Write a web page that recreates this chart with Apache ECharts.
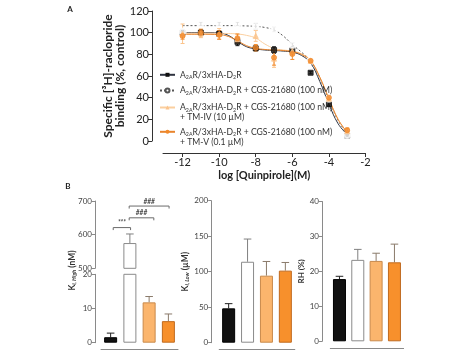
<!DOCTYPE html>
<html><head><meta charset="utf-8">
<script src="https://cdn.jsdelivr.net/npm/echarts@6/dist/echarts.min.js"></script>
<style>html,body{margin:0;padding:0;background:#fff}#c{width:474px;height:359px}</style>
</head><body><div id="c"></div>
<script>
// ---------- Panel A data ----------
const logX = [-12, -11, -10, -9, -8, -7, -6, -5, -4, -3];
const ctrlMean = [100, 100, 99, 91.5, 85.5, 84, 84, 63, 34, 5];
const ctrlErr  = [2, 2, 2, 3.5, 2, 3, 3, 1, 2, 1];
const cgsMean  = [101, 108, 108, 108, 106, 103, 88.6, 74, 39, 5.5];
const cgsErr   = [2, 1.5, 1.5, 1.5, 2.5, 2, 2, 2, 2, 1];
const tm4Mean  = [99, 99.4, 98.8, 94, 97, 76, 83, 74, 39, 9];
const tm4Err   = [9, 4, 5, 4, 5, 8, 3, 2, 2, 2];
const tm5Mean  = [97, 100, 98, 94.8, 86, 77, 80.3, 74, 40, 10];
const tm5Err   = [3, 3, 4, 4, 3, 7, 5, 2, 2, 2];

// fitted curves
const curveX    = [-12, -11, -10, -9.5, -9, -8.5, -8, -7.5, -7, -6.5, -6, -5.5, -5, -4.5, -4, -3.5, -3];
const ctrlCurve = [100, 100, 99.8, 97.5, 92, 87, 85, 84, 83.5, 83, 82, 79, 72, 55, 34, 16, 6];
const cgsCurve  = [106.5, 106.5, 106.5, 106.5, 106.4, 106.2, 105.8, 104.8, 102.5, 97, 89, 82, 74, 58, 38, 19, 7];
const tm4Curve  = [99.5, 99.5, 99.4, 99.2, 98.8, 97.5, 95, 89.5, 85.5, 84, 83, 80.5, 74.5, 59, 39, 20, 8];
const tm5Curve  = [98.5, 98.5, 98.2, 96.5, 92.5, 88, 85.5, 84.5, 84, 83.5, 82.5, 80, 74, 59, 39, 20, 8];
const xTicks = [-12, -10, -8, -6, -4, -2];

// ---------- Panel B data ----------
const groups = ['A2AR/3xHA-D2R', '+ CGS-21680', '+ CGS-21680 + TM-IV', '+ CGS-21680 + TM-V'];
const kHigh    = [1.6, 575, 11.8, 6.3];
const kHighErr = [1.2, 27, 1.7, 2.1];
const kLow     = [48.4, 114, 94.4, 101.5];
const kLowErr  = [6.6, 32, 20, 11.5];
const rh       = [17.8, 23.3, 23.0, 22.6];
const rhErr    = [0.8, 3.0, 2.2, 5.2];
const sigFrom  = [0, 1, 1];
const sigTo    = [1, 2, 3];
const sigY     = [621, 650, 685];
const sigText  = ['***', '###', '###'];

// ---------- styles ----------
const F = 'Lato, "DejaVu Sans", sans-serif';
const names = [
  'A2AR/3xHA-D2R',
  'A2AR/3xHA-D2R + CGS-21680 (100 nM)',
  'A2AR/3xHA-D2R + CGS-21680 (100 nM) + TM-IV (10 µM)',
  'A2AR/3xHA-D2R + CGS-21680 (100 nM) + TM-V (0.1 µM)'
];
const lineCol = ['#2f3440', '#555555', '#fbcf9f', '#e8842c'];
const ptCol = ['#111111', '#555555', '#fbc48c', '#f28a2a'];
const symbols = ['rect', 'emptyCircle', 'triangle', 'circle'];
const barFill = ['#111111', '#ffffff', '#fbb56d', '#f7902c'];
const barBorder = ['#000000', '#8a8a8a', '#c98a4c', '#c06a1e'];
const errCol = ['#222222', '#808080', '#8a7a6a', '#8a7a6a'];
const sigFromShift = [2.6, -0.7, -0.7];
const sigToShift = [0.7, 4.7, 0.7];

const legBase = '{n|A}{s|2A}{n|R/3xHA-D}{s|2}{n|R}';
const legendText = {};
legendText[names[0]] = legBase;
legendText[names[1]] = legBase + '{n| + CGS-21680 (100 nM)}';
legendText[names[2]] = '{n| }\n' + legBase + '{n| + CGS-21680 (100 nM)}\n{n|+ TM-IV (10 µM)}';
legendText[names[3]] = '{n| }\n' + legBase + '{n| + CGS-21680 (100 nM)}\n{n|+ TM-V (0.1 µM)}';

function legendFor(name, top) {
  return {
    data: [name], left: 159, top: top, orient: 'vertical', padding: 0,
    itemWidth: 15, itemHeight: 5, itemGap: 0, selectedMode: false,
    formatter: n => legendText[n],
    textStyle: {
      color: '#333', fontFamily: F,
      rich: {
        n: {fontSize: 8.6, lineHeight: 10, color: '#333', fontFamily: F},
        s: {fontSize: 5.3, lineHeight: 10, color: '#333', fontFamily: F, verticalAlign: 'bottom', padding: [3, 0, 0, 0]}
      }
    }
  };
}

function pointErr(k, means, errs) {
  return {
    type: 'custom', xAxisIndex: 0, yAxisIndex: 0, silent: true, z: 3,
    data: logX.map((x, i) => [x, means[i], errs[i]]),
    renderItem(params, api) {
      const x = api.value(0), m = api.value(1), e = api.value(2);
      const t = api.coord([x, m + e]), b = api.coord([x, m - e]);
      const st = {stroke: ptCol[k], lineWidth: 1};
      return {type: 'group', children: [
        {type: 'line', shape: {x1: t[0], y1: t[1], x2: b[0], y2: b[1]}, style: st},
        {type: 'line', shape: {x1: t[0] - 2, y1: t[1], x2: t[0] + 2, y2: t[1]}, style: st},
        {type: 'line', shape: {x1: b[0] - 2, y1: b[1], x2: b[0] + 2, y2: b[1]}, style: st}
      ]};
    }
  };
}

function barErr(gi, means, errs, keep) {
  return {
    type: 'custom', xAxisIndex: gi, yAxisIndex: gi, silent: true, z: 1,
    data: means.map((m, i) => keep.indexOf(i) >= 0 ? [i, m, errs[i]] : [i, '-', '-']),
    renderItem(params, api) {
      const i = api.value(0), m = api.value(1), e = api.value(2);
      if (isNaN(m)) return null;
      const t = api.coord([i, m + e]), b = api.coord([i, m]);
      const st = {stroke: errCol[i], lineWidth: 1};
      return {type: 'group', children: [
        {type: 'line', shape: {x1: t[0], y1: t[1], x2: b[0], y2: b[1]}, style: st},
        {type: 'line', shape: {x1: t[0] - 3.8, y1: t[1], x2: t[0] + 3.8, y2: t[1]}, style: st}
      ]};
    }
  };
}

function barSeries(gi, vals, keep) {
  return {
    type: 'bar', xAxisIndex: gi, yAxisIndex: gi, barWidth: 13, silent: true, z: 2,
    data: vals.map((v, i) => keep.indexOf(i) >= 0 ? {
      value: v, itemStyle: {color: barFill[i], borderColor: barBorder[i], borderWidth: 1}
    } : '-')
  };
}

const bYLabel = {fontSize: 8, color: '#444', margin: 3, fontFamily: F};
const bYLine = {show: true, onZero: false, lineStyle: {color: '#8a8a8a', width: 1}};
const bYTick = {show: true, length: 3, lineStyle: {color: '#8a8a8a'}};
function bX(gi, show) {
  return {type: 'category', gridIndex: gi, data: groups, show: show, offset: 7,
    axisLine: {show: true, onZero: false, lineStyle: {color: '#8a8a8a'}}, axisTick: {show: false}, axisLabel: {show: false}};
}
function bY(gi, min, max, interval, offset, extra) {
  return Object.assign({type: 'value', gridIndex: gi, min: min, max: max, interval: interval, offset: offset,
    axisLine: bYLine, axisTick: bYTick, axisLabel: bYLabel, splitLine: {show: false}}, extra || {});
}

const series = [];
const curves = [ctrlCurve, cgsCurve, tm4Curve, tm5Curve];
const means = [ctrlMean, cgsMean, tm4Mean, tm5Mean];
const errs = [ctrlErr, cgsErr, tm4Err, tm5Err];
for (let k = 0; k < 4; k++) {
  series.push({
    type: 'line', name: names[k], xAxisIndex: 0, yAxisIndex: 0, smooth: 0.4,
    data: curveX.map((x, i) => [x, curves[k][i]]),
    symbol: symbols[k], symbolSize: 5, showSymbol: false, silent: true, z: 2,
    lineStyle: {color: lineCol[k], width: 1, type: k === 1 ? [2, 2] : 'solid'},
    itemStyle: {color: ptCol[k], borderColor: ptCol[k]}
  });
}
for (let k = 0; k < 4; k++) {
  series.push(pointErr(k, means[k], errs[k]));
  series.push({
    type: 'scatter', name: 'pts' + k, xAxisIndex: 0, yAxisIndex: 0, silent: true, z: 4,
    data: logX.map((x, i) => [x, means[k][i]]),
    symbol: symbols[k], symbolSize: k === 1 ? 6 : 5,
    itemStyle: {color: k === 1 ? '#fff' : ptCol[k], borderColor: ptCol[k], borderWidth: 1}
  });
}
// panel B
series.push(barSeries(1, kHigh, [1]));
series.push(barErr(1, kHigh, kHighErr, [1]));
series.push(barSeries(2, kHigh, [0, 1, 2, 3]));
series.push(barErr(2, kHigh, kHighErr, [0, 2, 3]));
series.push(barSeries(3, kLow, [0, 1, 2, 3]));
series.push(barErr(3, kLow, kLowErr, [0, 1, 2, 3]));
series.push(barSeries(4, rh, [0, 1, 2, 3]));
series.push(barErr(4, rh, rhErr, [0, 1, 2, 3]));
series.push({
  type: 'custom', xAxisIndex: 1, yAxisIndex: 1, silent: true, clip: false, z: 5,
  data: sigFrom.map((f, i) => [f, sigTo[i], sigY[i], i]),
  renderItem(params, api) {
    const f = api.value(0), t = api.value(1), y = api.value(2), i = api.value(3);
    const p1 = api.coord([f, y]), p2 = api.coord([t, y]);
    const x1 = p1[0] + sigFromShift[i], x2 = p2[0] + sigToShift[i], yy = p1[1];
    return {type: 'group', children: [
      {type: 'polyline', shape: {points: [[x1, yy + 2.5], [x1, yy], [x2, yy], [x2, yy + 2.5]]},
       style: {stroke: '#6a6a6a', lineWidth: 1, fill: null}},
      {type: 'text', x: (x1 + x2) / 2, y: yy - 1,
       style: {text: sigText[i], fill: '#444', font: 'italic bold 6.5px ' + F, align: 'center', verticalAlign: 'bottom'}}
    ]};
  }
});

const option = {
  animation: false,
  textStyle: {fontFamily: F},
  grid: [
    {left: 163, top: 11, width: 202.5, height: 130},
    {left: 101, top: 201, width: 77, height: 67.3},
    {left: 101, top: 274.3, width: 77, height: 68.4},
    {left: 219.2, top: 200.7, width: 75.6, height: 142},
    {left: 330.3, top: 201.5, width: 73.3, height: 139.8}
  ],
  xAxis: [
    {type: 'value', gridIndex: 0, min: -13.07, max: -2, offset: 12,
     axisLine: {show: true, onZero: false, lineStyle: {color: '#333'}},
     axisTick: {show: true, length: 4, customValues: xTicks, lineStyle: {color: '#333'}},
     axisLabel: {customValues: xTicks, fontSize: 11, color: '#222', margin: 4, fontFamily: F},
     splitLine: {show: false},
     name: 'log [Quinpirole](M)', nameLocation: 'middle', nameGap: 17,
     nameTextStyle: {fontWeight: 'bold', fontSize: 11, color: '#222', fontFamily: F}},
    bX(1, false), bX(2, true), bX(3, true), bX(4, true)
  ],
  yAxis: [
    {type: 'value', gridIndex: 0, min: 0, max: 120, interval: 20, offset: 11,
     axisLine: {show: true, onZero: false, lineStyle: {color: '#333'}},
     axisTick: {show: true, length: 4, lineStyle: {color: '#333'}},
     axisLabel: {fontSize: 11, color: '#222', margin: 3, fontFamily: F},
     splitLine: {show: false},
     name: 'Specific [³H]-raclopride\nbinding (%, control)', nameLocation: 'middle', nameRotate: 90, nameGap: 21,
     nameTextStyle: {fontWeight: 'bold', fontSize: 12, lineHeight: 12, color: '#222', fontFamily: F}},
    bY(1, 500, 700, 100, 6),
    bY(2, 0, 20, 10, 6),
    bY(3, 0, 200, 50, 8, {
      name: '{k|K}{s|i, Low}{k| (µM)}', nameLocation: 'middle', nameRotate: 90, nameGap: 16,
      nameTextStyle: {rich: {
        k: {fontSize: 8.5, fontWeight: 'bold', color: '#333', fontFamily: F, lineHeight: 10},
        s: {fontSize: 5.5, fontStyle: 'italic', fontWeight: 'bold', color: '#333', fontFamily: F, lineHeight: 10, verticalAlign: 'bottom', padding: [3, 0, 0, 0]}
      }}}),
    bY(4, 0, 40, 10, 8.3, {
      name: 'RH (%)', nameLocation: 'middle', nameRotate: 90, nameGap: 12,
      nameTextStyle: {fontSize: 8, fontWeight: 'bold', color: '#333', fontFamily: F}})
  ],
  legend: [legendFor(names[0], 70.3), legendFor(names[1], 86), legendFor(names[2], 93), legendFor(names[3], 117.3)],
  graphic: [
    {type: 'text', x: 70, y: 9.5, style: {text: 'A', font: 'bold 8px ' + F, fill: '#222', align: 'center', verticalAlign: 'middle'}},
    {type: 'text', x: 68, y: 186.5, style: {text: 'B', font: 'bold 8px ' + F, fill: '#222', align: 'center', verticalAlign: 'middle'}},
    {type: 'text', x: 72, y: 270.5, rotation: Math.PI / 2,
     style: {text: '{k|K}{s|i, High}{k| (nM)}', align: 'center', verticalAlign: 'middle',
       rich: {
         k: {fontSize: 8.5, fontWeight: 'bold', fill: '#333', fontFamily: F, lineHeight: 10},
         s: {fontSize: 5.5, fontStyle: 'italic', fontWeight: 'bold', fill: '#333', fontFamily: F, lineHeight: 10, verticalAlign: 'bottom', padding: [3, 0, 0, 0]}
       }}}
  ],
  series: series
};
const chart = echarts.init(document.getElementById('c'), null, {renderer: 'canvas'});
chart.setOption(option);
</script></body></html>
